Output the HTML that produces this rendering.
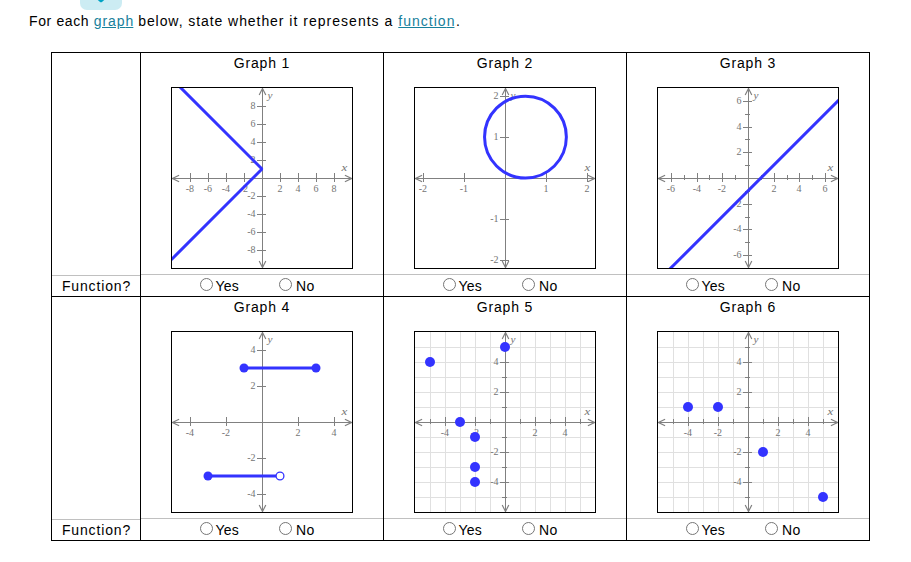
<!DOCTYPE html><html><head><meta charset="utf-8"><title>Graphs</title><style>
html,body{margin:0;padding:0;background:#fff;}
body{width:911px;height:562px;position:relative;overflow:hidden;font-family:"Liberation Sans",sans-serif;color:#000;}
.abs{position:absolute;}
.ln{position:absolute;background:#000;}
.gl{position:absolute;background:#c0c0c0;height:1px;}
.t{position:absolute;font-size:14px;line-height:16px;white-space:nowrap;letter-spacing:0.45px;}
.w{letter-spacing:0.85px;}
#hdr{letter-spacing:0.93px;}
.ttl{width:242px;text-align:center;}
.box{position:absolute;width:180px;height:180px;border:1px solid #000;background:#fff;}
.box svg{display:block;}
.rad{position:absolute;width:11px;height:11px;border:1px solid #767676;border-radius:50%;background:#fff;}
a{color:#17809b;text-decoration:underline;}
</style></head><body>
<div class="abs" style="left:80px;top:-10px;width:42px;height:20px;background:#ccecf3;border-radius:7px;"></div>
<svg class="abs" style="left:90px;top:0" width="22" height="6" viewBox="0 0 22 6"><path d="M4 -5.8 L11 0.2 L18 -5.8" fill="none" stroke="#00a3c4" stroke-width="3.9" stroke-linecap="round" stroke-linejoin="round"/></svg>
<div class="t" id="hdr" style="left:29px;top:13px;"><span style="letter-spacing:0.63px">For each </span><a>grap<span style="letter-spacing:0">h</span></a> below, state whether<span style="letter-spacing:1.02px"> it represents a <a>functio<span style="letter-spacing:0">n</span></a><span style="margin-left:1.5px">.</span></span></div>
<div class="abs" style="left:51px;top:52px;width:817px;height:487px;border:1px solid #000;"></div>
<div class="ln" style="left:140px;top:52px;width:1px;height:489px;"></div>
<div class="ln" style="left:383px;top:52px;width:1px;height:489px;"></div>
<div class="ln" style="left:626px;top:52px;width:1px;height:489px;"></div>
<div class="ln" style="left:51px;top:296px;width:819px;height:1px;"></div>
<div class="gl" style="left:52px;top:275px;width:88px;"></div>
<div class="gl" style="left:141px;top:274px;width:242px;"></div>
<div class="gl" style="left:384px;top:274px;width:242px;"></div>
<div class="gl" style="left:627px;top:274px;width:242px;"></div>
<div class="gl" style="left:52px;top:519px;width:88px;"></div>
<div class="gl" style="left:141px;top:518px;width:242px;"></div>
<div class="gl" style="left:384px;top:518px;width:242px;"></div>
<div class="gl" style="left:627px;top:518px;width:242px;"></div>
<div class="t w" style="left:52px;top:278px;width:89px;text-align:center;">Function?</div>
<div class="t w ttl" style="left:141px;top:55px;">Graph 1</div>
<div class="box" style="left:171px;top:87px;"><svg width="180" height="180" viewBox="0 0 180 180"><g fill="#808080" shape-rendering="crispEdges"><rect x="0" y="90" width="180" height="1"/><rect x="90" y="0" width="1" height="180"/><rect x="72" y="85" width="1" height="9"/><rect x="85" y="108" width="9" height="1"/><rect x="108" y="85" width="1" height="9"/><rect x="85" y="72" width="9" height="1"/><rect x="54" y="85" width="1" height="9"/><rect x="85" y="126" width="9" height="1"/><rect x="126" y="85" width="1" height="9"/><rect x="85" y="54" width="9" height="1"/><rect x="36" y="85" width="1" height="9"/><rect x="85" y="144" width="9" height="1"/><rect x="144" y="85" width="1" height="9"/><rect x="85" y="36" width="9" height="1"/><rect x="18" y="85" width="1" height="9"/><rect x="85" y="162" width="9" height="1"/><rect x="162" y="85" width="1" height="9"/><rect x="85" y="18" width="9" height="1"/></g><g fill="none" stroke="#808080" stroke-width="1.2"><path d="M87.2 7.1 L90.5 0.5 L93.8 7.1"/><path d="M87.2 172.9 L90.5 179.5 L93.8 172.9"/><path d="M7.1 87.2 L0.5 90.5 L7.1 93.8"/><path d="M172.9 87.2 L179.5 90.5 L172.9 93.8"/></g><g fill="#747474" font-family="'Liberation Serif', serif" font-size="10px"><text x="71.9" y="103.8" text-anchor="middle">-2</text><text x="83.5" y="110.7" text-anchor="end">-2</text><text x="107.9" y="103.8" text-anchor="middle">2</text><text x="83.5" y="74.7" text-anchor="end">2</text><text x="53.9" y="103.8" text-anchor="middle">-4</text><text x="83.5" y="128.7" text-anchor="end">-4</text><text x="125.9" y="103.8" text-anchor="middle">4</text><text x="83.5" y="56.7" text-anchor="end">4</text><text x="35.9" y="103.8" text-anchor="middle">-6</text><text x="83.5" y="146.7" text-anchor="end">-6</text><text x="143.9" y="103.8" text-anchor="middle">6</text><text x="83.5" y="38.7" text-anchor="end">6</text><text x="17.9" y="103.8" text-anchor="middle">-8</text><text x="83.5" y="164.7" text-anchor="end">-8</text><text x="161.9" y="103.8" text-anchor="middle">8</text><text x="83.5" y="20.7" text-anchor="end">8</text><text transform="translate(169.4 82.9) scale(1.3 1.04)" font-style="italic">x</text><text transform="translate(95.5 10.9) scale(1.12 1.04)" font-style="italic">y</text></g><path d="M-9.0 -18.0 L90.0 81.0 L-9.0 180.0" fill="none" stroke="#3333ff" stroke-width="3" stroke-linejoin="bevel"/></svg></div>
<div class="rad" style="left:200px;top:278px;"></div>
<div class="t" style="left:215.6px;top:278px;letter-spacing:0.15px;">Yes</div>
<div class="rad" style="left:279px;top:278px;"></div>
<div class="t" style="left:296px;top:278px;">No</div>
<div class="t w ttl" style="left:384px;top:55px;">Graph 2</div>
<div class="box" style="left:414px;top:87px;"><svg width="180" height="180" viewBox="0 0 180 180"><g fill="#808080" shape-rendering="crispEdges"><rect x="0" y="90" width="180" height="1"/><rect x="90" y="0" width="1" height="180"/><rect x="49" y="85" width="1" height="9"/><rect x="85" y="131" width="9" height="1"/><rect x="131" y="85" width="1" height="9"/><rect x="85" y="49" width="9" height="1"/><rect x="8" y="85" width="1" height="9"/><rect x="85" y="172" width="9" height="1"/><rect x="172" y="85" width="1" height="9"/><rect x="85" y="8" width="9" height="1"/></g><g fill="none" stroke="#808080" stroke-width="1.2"><path d="M87.2 7.1 L90.5 0.5 L93.8 7.1"/><path d="M87.2 172.9 L90.5 179.5 L93.8 172.9"/><path d="M7.1 87.2 L0.5 90.5 L7.1 93.8"/><path d="M172.9 87.2 L179.5 90.5 L172.9 93.8"/></g><g fill="#747474" font-family="'Liberation Serif', serif" font-size="10px"><text x="48.9" y="103.8" text-anchor="middle">-1</text><text x="83.5" y="133.7" text-anchor="end">-1</text><text x="130.9" y="103.8" text-anchor="middle">1</text><text x="83.5" y="51.7" text-anchor="end">1</text><text x="7.9" y="103.8" text-anchor="middle">-2</text><text x="83.5" y="174.7" text-anchor="end">-2</text><text x="171.9" y="103.8" text-anchor="middle">2</text><text x="83.5" y="10.7" text-anchor="end">2</text><text transform="translate(169.4 82.9) scale(1.3 1.04)" font-style="italic">x</text><text transform="translate(95.5 10.9) scale(1.12 1.04)" font-style="italic">y</text></g><circle cx="110.45" cy="49.09" r="40.91" fill="none" stroke="#3333ff" stroke-width="3"/></svg></div>
<div class="rad" style="left:443px;top:278px;"></div>
<div class="t" style="left:458.6px;top:278px;letter-spacing:0.15px;">Yes</div>
<div class="rad" style="left:522px;top:278px;"></div>
<div class="t" style="left:539px;top:278px;">No</div>
<div class="t w ttl" style="left:627px;top:55px;">Graph 3</div>
<div class="box" style="left:657px;top:87px;"><svg width="180" height="180" viewBox="0 0 180 180"><g fill="#808080" shape-rendering="crispEdges"><rect x="0" y="90" width="180" height="1"/><rect x="90" y="0" width="1" height="180"/><rect x="64" y="85" width="1" height="9"/><rect x="85" y="116" width="9" height="1"/><rect x="116" y="85" width="1" height="9"/><rect x="85" y="64" width="9" height="1"/><rect x="39" y="85" width="1" height="9"/><rect x="85" y="141" width="9" height="1"/><rect x="141" y="85" width="1" height="9"/><rect x="85" y="39" width="9" height="1"/><rect x="13" y="85" width="1" height="9"/><rect x="85" y="167" width="9" height="1"/><rect x="167" y="85" width="1" height="9"/><rect x="85" y="13" width="9" height="1"/><rect x="77" y="87" width="1" height="5"/><rect x="87" y="103" width="5" height="1"/><rect x="103" y="87" width="1" height="5"/><rect x="87" y="77" width="5" height="1"/><rect x="51" y="87" width="1" height="5"/><rect x="87" y="129" width="5" height="1"/><rect x="129" y="87" width="1" height="5"/><rect x="87" y="51" width="5" height="1"/><rect x="26" y="87" width="1" height="5"/><rect x="87" y="154" width="5" height="1"/><rect x="154" y="87" width="1" height="5"/><rect x="87" y="26" width="5" height="1"/></g><g fill="none" stroke="#808080" stroke-width="1.2"><path d="M87.2 7.1 L90.5 0.5 L93.8 7.1"/><path d="M87.2 172.9 L90.5 179.5 L93.8 172.9"/><path d="M7.1 87.2 L0.5 90.5 L7.1 93.8"/><path d="M172.9 87.2 L179.5 90.5 L172.9 93.8"/></g><g fill="#747474" font-family="'Liberation Serif', serif" font-size="10px"><text x="63.9" y="103.8" text-anchor="middle">-2</text><text x="83.5" y="118.7" text-anchor="end">-2</text><text x="115.9" y="103.8" text-anchor="middle">2</text><text x="83.5" y="66.7" text-anchor="end">2</text><text x="38.9" y="103.8" text-anchor="middle">-4</text><text x="83.5" y="143.7" text-anchor="end">-4</text><text x="140.9" y="103.8" text-anchor="middle">4</text><text x="83.5" y="41.7" text-anchor="end">4</text><text x="12.9" y="103.8" text-anchor="middle">-6</text><text x="83.5" y="169.7" text-anchor="end">-6</text><text x="166.9" y="103.8" text-anchor="middle">6</text><text x="83.5" y="15.7" text-anchor="end">6</text><text transform="translate(169.4 82.9) scale(1.3 1.04)" font-style="italic">x</text><text transform="translate(95.5 10.9) scale(1.12 1.04)" font-style="italic">y</text></g><path d="M-12.86 205.71 L192.86 0.00" fill="none" stroke="#3333ff" stroke-width="3"/></svg></div>
<div class="rad" style="left:686px;top:278px;"></div>
<div class="t" style="left:701.6px;top:278px;letter-spacing:0.15px;">Yes</div>
<div class="rad" style="left:765px;top:278px;"></div>
<div class="t" style="left:782px;top:278px;">No</div>
<div class="t w" style="left:52px;top:522px;width:89px;text-align:center;">Function?</div>
<div class="t w ttl" style="left:141px;top:299px;">Graph 4</div>
<div class="box" style="left:171px;top:331px;"><svg width="180" height="180" viewBox="0 0 180 180"><g fill="#808080" shape-rendering="crispEdges"><rect x="0" y="90" width="180" height="1"/><rect x="90" y="0" width="1" height="180"/><rect x="54" y="85" width="1" height="9"/><rect x="85" y="126" width="9" height="1"/><rect x="126" y="85" width="1" height="9"/><rect x="85" y="54" width="9" height="1"/><rect x="18" y="85" width="1" height="9"/><rect x="85" y="162" width="9" height="1"/><rect x="162" y="85" width="1" height="9"/><rect x="85" y="18" width="9" height="1"/></g><g fill="none" stroke="#808080" stroke-width="1.2"><path d="M87.2 7.1 L90.5 0.5 L93.8 7.1"/><path d="M87.2 172.9 L90.5 179.5 L93.8 172.9"/><path d="M7.1 87.2 L0.5 90.5 L7.1 93.8"/><path d="M172.9 87.2 L179.5 90.5 L172.9 93.8"/></g><g fill="#747474" font-family="'Liberation Serif', serif" font-size="10px"><text x="53.9" y="103.8" text-anchor="middle">-2</text><text x="83.5" y="128.7" text-anchor="end">-2</text><text x="125.9" y="103.8" text-anchor="middle">2</text><text x="83.5" y="56.7" text-anchor="end">2</text><text x="17.9" y="103.8" text-anchor="middle">-4</text><text x="83.5" y="164.7" text-anchor="end">-4</text><text x="161.9" y="103.8" text-anchor="middle">4</text><text x="83.5" y="20.7" text-anchor="end">4</text><text transform="translate(169.4 82.9) scale(1.3 1.04)" font-style="italic">x</text><text transform="translate(95.5 10.9) scale(1.12 1.04)" font-style="italic">y</text></g><g stroke="#3333ff" stroke-width="3" fill="none"><path d="M72.0 36.0 L144.0 36.0"/><path d="M36.0 144.0 L104.0 144.0"/></g><circle cx="72.0" cy="36.0" r="4.5" fill="#3333ff"/><circle cx="144.0" cy="36.0" r="4.5" fill="#3333ff"/><circle cx="36.0" cy="144.0" r="4.5" fill="#3333ff"/><circle cx="108.0" cy="144.0" r="3.9" fill="#fff" stroke="#3333ff" stroke-width="1.3"/></svg></div>
<div class="rad" style="left:200px;top:522px;"></div>
<div class="t" style="left:215.6px;top:522px;letter-spacing:0.15px;">Yes</div>
<div class="rad" style="left:279px;top:522px;"></div>
<div class="t" style="left:296px;top:522px;">No</div>
<div class="t w ttl" style="left:384px;top:299px;">Graph 5</div>
<div class="box" style="left:414px;top:331px;"><svg width="180" height="180" viewBox="0 0 180 180"><g fill="#e0e0e0" shape-rendering="crispEdges"><rect x="75" y="0" width="1" height="180"/><rect x="0" y="75" width="180" height="1"/><rect x="105" y="0" width="1" height="180"/><rect x="0" y="105" width="180" height="1"/><rect x="60" y="0" width="1" height="180"/><rect x="0" y="60" width="180" height="1"/><rect x="120" y="0" width="1" height="180"/><rect x="0" y="120" width="180" height="1"/><rect x="45" y="0" width="1" height="180"/><rect x="0" y="45" width="180" height="1"/><rect x="135" y="0" width="1" height="180"/><rect x="0" y="135" width="180" height="1"/><rect x="30" y="0" width="1" height="180"/><rect x="0" y="30" width="180" height="1"/><rect x="150" y="0" width="1" height="180"/><rect x="0" y="150" width="180" height="1"/><rect x="15" y="0" width="1" height="180"/><rect x="0" y="15" width="180" height="1"/><rect x="165" y="0" width="1" height="180"/><rect x="0" y="165" width="180" height="1"/></g><g fill="#808080" shape-rendering="crispEdges"><rect x="0" y="90" width="180" height="1"/><rect x="90" y="0" width="1" height="180"/><rect x="60" y="85" width="1" height="9"/><rect x="85" y="120" width="9" height="1"/><rect x="120" y="85" width="1" height="9"/><rect x="85" y="60" width="9" height="1"/><rect x="30" y="85" width="1" height="9"/><rect x="85" y="150" width="9" height="1"/><rect x="150" y="85" width="1" height="9"/><rect x="85" y="30" width="9" height="1"/><rect x="75" y="87" width="1" height="5"/><rect x="87" y="105" width="5" height="1"/><rect x="105" y="87" width="1" height="5"/><rect x="87" y="75" width="5" height="1"/><rect x="45" y="87" width="1" height="5"/><rect x="87" y="135" width="5" height="1"/><rect x="135" y="87" width="1" height="5"/><rect x="87" y="45" width="5" height="1"/><rect x="15" y="87" width="1" height="5"/><rect x="87" y="165" width="5" height="1"/><rect x="165" y="87" width="1" height="5"/><rect x="87" y="15" width="5" height="1"/></g><g fill="none" stroke="#808080" stroke-width="1.2"><path d="M87.2 7.1 L90.5 0.5 L93.8 7.1"/><path d="M87.2 172.9 L90.5 179.5 L93.8 172.9"/><path d="M7.1 87.2 L0.5 90.5 L7.1 93.8"/><path d="M172.9 87.2 L179.5 90.5 L172.9 93.8"/></g><g fill="#747474" font-family="'Liberation Serif', serif" font-size="10px"><text x="59.9" y="103.8" text-anchor="middle">-2</text><text x="83.5" y="122.7" text-anchor="end">-2</text><text x="119.9" y="103.8" text-anchor="middle">2</text><text x="83.5" y="62.7" text-anchor="end">2</text><text x="29.9" y="103.8" text-anchor="middle">-4</text><text x="83.5" y="152.7" text-anchor="end">-4</text><text x="149.9" y="103.8" text-anchor="middle">4</text><text x="83.5" y="32.7" text-anchor="end">4</text><text transform="translate(169.4 82.9) scale(1.3 1.04)" font-style="italic">x</text><text transform="translate(95.5 10.9) scale(1.12 1.04)" font-style="italic">y</text></g><circle cx="15.0" cy="30.0" r="5" fill="#3333ff"/><circle cx="90.0" cy="15.0" r="5" fill="#3333ff"/><circle cx="45.0" cy="90.0" r="5" fill="#3333ff"/><circle cx="60.0" cy="105.0" r="5" fill="#3333ff"/><circle cx="60.0" cy="135.0" r="5" fill="#3333ff"/><circle cx="60.0" cy="150.0" r="5" fill="#3333ff"/></svg></div>
<div class="rad" style="left:443px;top:522px;"></div>
<div class="t" style="left:458.6px;top:522px;letter-spacing:0.15px;">Yes</div>
<div class="rad" style="left:522px;top:522px;"></div>
<div class="t" style="left:539px;top:522px;">No</div>
<div class="t w ttl" style="left:627px;top:299px;">Graph 6</div>
<div class="box" style="left:657px;top:331px;"><svg width="180" height="180" viewBox="0 0 180 180"><g fill="#e0e0e0" shape-rendering="crispEdges"><rect x="75" y="0" width="1" height="180"/><rect x="0" y="75" width="180" height="1"/><rect x="105" y="0" width="1" height="180"/><rect x="0" y="105" width="180" height="1"/><rect x="60" y="0" width="1" height="180"/><rect x="0" y="60" width="180" height="1"/><rect x="120" y="0" width="1" height="180"/><rect x="0" y="120" width="180" height="1"/><rect x="45" y="0" width="1" height="180"/><rect x="0" y="45" width="180" height="1"/><rect x="135" y="0" width="1" height="180"/><rect x="0" y="135" width="180" height="1"/><rect x="30" y="0" width="1" height="180"/><rect x="0" y="30" width="180" height="1"/><rect x="150" y="0" width="1" height="180"/><rect x="0" y="150" width="180" height="1"/><rect x="15" y="0" width="1" height="180"/><rect x="0" y="15" width="180" height="1"/><rect x="165" y="0" width="1" height="180"/><rect x="0" y="165" width="180" height="1"/></g><g fill="#808080" shape-rendering="crispEdges"><rect x="0" y="90" width="180" height="1"/><rect x="90" y="0" width="1" height="180"/><rect x="60" y="85" width="1" height="9"/><rect x="85" y="120" width="9" height="1"/><rect x="120" y="85" width="1" height="9"/><rect x="85" y="60" width="9" height="1"/><rect x="30" y="85" width="1" height="9"/><rect x="85" y="150" width="9" height="1"/><rect x="150" y="85" width="1" height="9"/><rect x="85" y="30" width="9" height="1"/><rect x="75" y="87" width="1" height="5"/><rect x="87" y="105" width="5" height="1"/><rect x="105" y="87" width="1" height="5"/><rect x="87" y="75" width="5" height="1"/><rect x="45" y="87" width="1" height="5"/><rect x="87" y="135" width="5" height="1"/><rect x="135" y="87" width="1" height="5"/><rect x="87" y="45" width="5" height="1"/><rect x="15" y="87" width="1" height="5"/><rect x="87" y="165" width="5" height="1"/><rect x="165" y="87" width="1" height="5"/><rect x="87" y="15" width="5" height="1"/></g><g fill="none" stroke="#808080" stroke-width="1.2"><path d="M87.2 7.1 L90.5 0.5 L93.8 7.1"/><path d="M87.2 172.9 L90.5 179.5 L93.8 172.9"/><path d="M7.1 87.2 L0.5 90.5 L7.1 93.8"/><path d="M172.9 87.2 L179.5 90.5 L172.9 93.8"/></g><g fill="#747474" font-family="'Liberation Serif', serif" font-size="10px"><text x="59.9" y="103.8" text-anchor="middle">-2</text><text x="83.5" y="122.7" text-anchor="end">-2</text><text x="119.9" y="103.8" text-anchor="middle">2</text><text x="83.5" y="62.7" text-anchor="end">2</text><text x="29.9" y="103.8" text-anchor="middle">-4</text><text x="83.5" y="152.7" text-anchor="end">-4</text><text x="149.9" y="103.8" text-anchor="middle">4</text><text x="83.5" y="32.7" text-anchor="end">4</text><text transform="translate(169.4 82.9) scale(1.3 1.04)" font-style="italic">x</text><text transform="translate(95.5 10.9) scale(1.12 1.04)" font-style="italic">y</text></g><circle cx="30.0" cy="75.0" r="5" fill="#3333ff"/><circle cx="60.0" cy="75.0" r="5" fill="#3333ff"/><circle cx="105.0" cy="120.0" r="5" fill="#3333ff"/><circle cx="165.0" cy="165.0" r="5" fill="#3333ff"/></svg></div>
<div class="rad" style="left:686px;top:522px;"></div>
<div class="t" style="left:701.6px;top:522px;letter-spacing:0.15px;">Yes</div>
<div class="rad" style="left:765px;top:522px;"></div>
<div class="t" style="left:782px;top:522px;">No</div>
</body></html>
